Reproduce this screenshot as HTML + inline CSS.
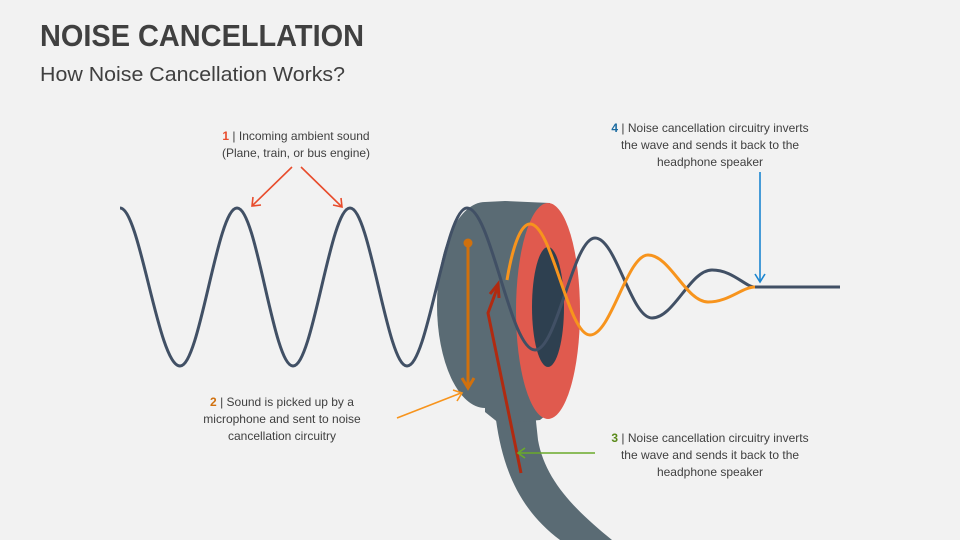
<!DOCTYPE html>
<html><head><meta charset="utf-8"><style>
html,body{margin:0;padding:0;background:#f2f2f2;}
svg{display:block;font-family:"Liberation Sans",sans-serif;}
</style></head><body>
<svg width="960" height="540" viewBox="0 0 960 540" xmlns="http://www.w3.org/2000/svg">
<rect width="960" height="540" fill="#f2f2f2"/>
<text x="40" y="46" font-size="31" font-weight="bold" fill="#404040" textLength="324" lengthAdjust="spacingAndGlyphs">NOISE CANCELLATION</text>
<text x="40" y="81" font-size="20" fill="#404040" textLength="305" lengthAdjust="spacingAndGlyphs">How Noise Cancellation Works?</text>

<!-- headphone -->
<path d="M496 420 C503 470 520 510 560 540 L612 540 C575 510 545 480 538 440 L535 412 Z" fill="#5a6b74"/>
<ellipse cx="485" cy="305" rx="48" ry="103" fill="#5a6b74"/>
<polygon points="485,202 505,201 550,203 550,412 540,420 500,424 485,412" fill="#5a6b74"/>
<ellipse cx="548" cy="311" rx="32" ry="108" fill="#e05a4e"/>
<ellipse cx="548" cy="307" rx="16" ry="60" fill="#2e4050"/>

<!-- dark wave -->
<path d="M120 208 C140 208 158 366 180 366 C200 366 217 208 237 208 C257 208 273 366 293 366 C313 366 330 208 350 208 C370 208 387 366 407 366 C428 366 445 208 467 208 C491 208 510 350 535 350 C557 350 573 238 595 238 C616 238 631 318 652 318 C674 318 690 270 712 270 C733 270 745 287 755 287 L840 287" fill="none" stroke="#415065" stroke-width="3"/>
<!-- orange wave -->
<path d="M507 280 C512 250 520 224 530 224 C552 224 568 335 590 335 C611 335 627 255 648 255 C670 255 686 302 708 302 C729 302 742 287 755 287" fill="none" stroke="#f7941d" stroke-width="3"/>

<!-- mic arrow -->
<circle cx="468" cy="243" r="4.5" fill="#d0700d"/>
<line x1="468" y1="243" x2="468" y2="388" stroke="#d0700d" stroke-width="3"/>
<polyline points="462,378 468,388 474,378" fill="none" stroke="#d0700d" stroke-width="3"/>
<!-- dark red arrow -->
<polyline points="521,473 488,313 498,286" fill="none" stroke="#b02a10" stroke-width="3"/>
<polyline points="490,294 498,284 499,298" fill="none" stroke="#b02a10" stroke-width="3"/>

<!-- callout arrows -->
<g stroke="#e84c2c" stroke-width="1.6" fill="none">
<line x1="292" y1="167" x2="253" y2="205"/><polyline points="253,197 252,206 261,205"/>
<line x1="301" y1="167" x2="341" y2="206"/><polyline points="333,205 342,207 341,198"/>
</g>
<g stroke="#f7941d" stroke-width="1.6" fill="none">
<line x1="397" y1="418" x2="461" y2="393"/><polyline points="453,390 462,393 457,401"/>
</g>
<g stroke="#6aaa2a" stroke-width="1.6" fill="none">
<line x1="595" y1="453" x2="518" y2="453"/><polyline points="525,448 518,453 525,458"/>
</g>
<g stroke="#1a85d0" stroke-width="1.6" fill="none">
<line x1="760" y1="172" x2="760" y2="281"/><polyline points="755,274 760,282 765,274"/>
</g>

<g font-size="12" fill="#404040" text-anchor="middle">
<text x="296" y="140"><tspan fill="#e84c2c" font-weight="bold">1</tspan> | Incoming ambient sound</text>
<text x="296" y="157">(Plane, train, or bus engine)</text>
<text x="282" y="406"><tspan fill="#d0700d" font-weight="bold">2</tspan> | Sound is picked up by a</text>
<text x="282" y="423">microphone and sent to noise</text>
<text x="282" y="440">cancellation circuitry</text>
<text x="710" y="442"><tspan fill="#5a8a1a" font-weight="bold">3</tspan> | Noise cancellation circuitry inverts</text>
<text x="710" y="459">the wave and sends it back to the</text>
<text x="710" y="476">headphone speaker</text>
<text x="710" y="132"><tspan fill="#1a6aa0" font-weight="bold">4</tspan> | Noise cancellation circuitry inverts</text>
<text x="710" y="149">the wave and sends it back to the</text>
<text x="710" y="166">headphone speaker</text>
</g>
</svg>
</body></html>
